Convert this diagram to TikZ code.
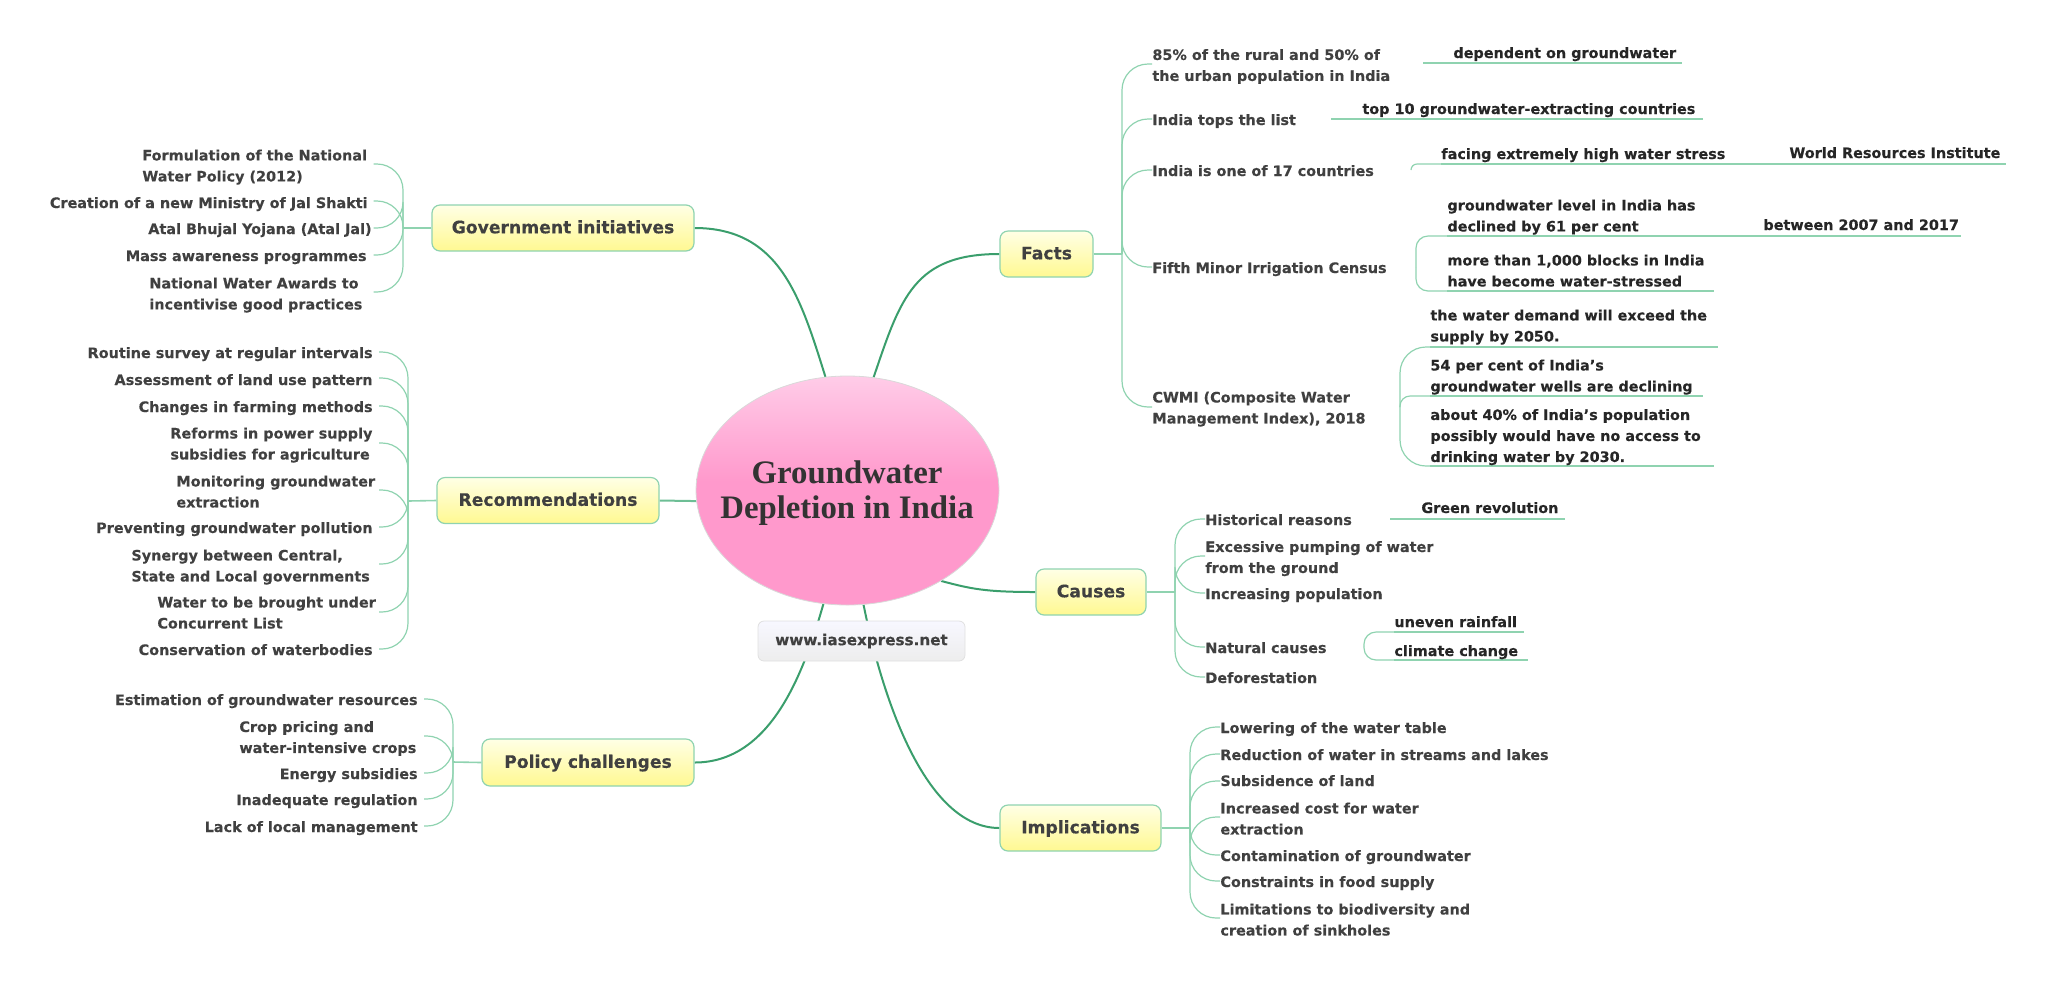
\documentclass[tikz,border=0pt]{standalone}
\usepackage{fontspec}
\setmainfont{DejaVu Sans}[BoldFeatures={FakeBold=0.25}]
\newfontfamily\titlefont{Liberation Serif}
\usetikzlibrary{backgrounds,shapes.geometric}
\definecolor{twigc}{HTML}{8FD3B0}
\definecolor{limbc}{HTML}{3A9E6C}
\definecolor{inkc}{HTML}{404040}
\definecolor{darkc}{HTML}{262626}
\definecolor{ellB}{HTML}{FF99CC}
\definecolor{ellT}{HTML}{FFCCE8}
\pgfdeclareverticalshading{ellshade}{100bp}{color(0bp)=(ellB);color(52bp)=(ellB);color(75bp)=(ellT);color(100bp)=(ellT)}
\newcommand{\st}{\rule[-2.5pt]{0pt}{10pt}}
\tikzset{
  x=0.5pt,y=-0.5pt,
  twig/.style={draw=twigc,line width=0.6pt,rounded corners=13pt},
  paren/.style={twig,rounded corners=6pt},
  limb/.style={draw=limbc,line width=1pt},
  limblight/.style={draw=twigc!60!limbc,line width=1pt},
  stem/.style={draw=twigc,line width=0.8pt},
  mainbox/.style={rectangle,rounded corners=4pt,draw=twigc,line width=0.6pt,top color=yellow!10!white,bottom color=yellow!40!white!95!orange,inner sep=0pt,text height=7pt,text depth=1.7pt,font=\fontsize{8.6}{10}\selectfont\bfseries,text=inkc},
  lab/.style={inner sep=0pt,anchor=west,align=left,font=\fontsize{7.2}{10.5}\selectfont\bfseries,text=inkc,execute at begin node=\st,execute at end node=\st},
  sub/.style={lab,text=darkc},
  rlab/.style={lab,anchor=east},
  ml/.style={yshift=-1.25pt},
}
\begin{document}
\begin{tikzpicture}
\useasboundingbox (0,0) rectangle (2048,981);
% centre
\node[ellipse,minimum width=151.5pt,minimum height=114.5pt,inner sep=0pt,draw=black!15,line width=0.4pt,shading=ellshade] (c) at (847.5,490.5) {};
\node[inner sep=0pt,align=center,font=\titlefont\fontsize{16.4}{17.5}\selectfont\bfseries,text=black!80] (ctitle) at (847,493) {Groundwater\\Depletion in India};
\node[rectangle,rounded corners=3pt,draw=black!12,line width=0.4pt,top color=blue!3!white,bottom color=black!7,minimum width=103.5pt,minimum height=20pt,inner sep=0pt,font=\fontsize{7.6}{9}\selectfont\bfseries,text=inkc] (web) at (861.5,641) {www.iasexpress.net};
% main boxes
\node[mainbox,minimum width=46.5pt,minimum height=23pt] (facts) at (1046.5,254) {Facts};
\node[mainbox,minimum width=55pt,minimum height=23pt] (causes) at (1091,592) {Causes};
\node[mainbox,minimum width=80.5pt,minimum height=23pt] (impl) at (1080.5,828) {Implications};
\node[mainbox,minimum width=131pt,minimum height=23pt] (gov) at (563,228) {Government initiatives};
\node[mainbox,minimum width=111pt,minimum height=23pt] (rec) at (548,500.5) {Recommendations};
\node[mainbox,minimum width=106pt,minimum height=23.5pt] (pol) at (588,762.5) {Policy challenges};
% Facts labels
\node[lab,ml] (f1) at (1152,65) {85\% of the rural and 50\% of\\the urban population in India};
\node[lab] (f2) at (1152,120) {India tops the list};
\node[lab] (f3) at (1152,171) {India is one of 17 countries};
\node[lab] (f4) at (1152,268) {Fifth Minor Irrigation Census};
\node[lab,ml] (f5) at (1152,407.5) {CWMI (Composite Water\\Management Index), 2018};
\node[sub] (s1) at (1453,53) {dependent on groundwater};
\node[sub] (s2) at (1362,109) {top 10 groundwater-extracting countries};
\node[sub] (s3) at (1441,154) {facing extremely high water stress};
\node[sub] (s4) at (1789,153) {World Resources Institute};
\node[sub,ml] (s5) at (1447,215.5) {groundwater level in India has\\declined by 61 per cent};
\node[sub] (s6) at (1763,225) {between 2007 and 2017};
\node[sub,ml] (s7) at (1447,270.5) {more than 1,000 blocks in India\\have become water-stressed};
\node[sub,ml] (s8) at (1430,325.5) {the water demand will exceed the\\supply by 2050.};
\node[sub,ml] (s9) at (1430,375.5) {54 per cent of India’s\\groundwater wells are declining};
\node[sub,ml] (s10) at (1430,435.5) {about 40\% of India’s population\\possibly would have no access to\\drinking water by 2030.};
% Causes labels
\node[lab] (a1) at (1205,520) {Historical reasons};
\node[lab,ml] (a2) at (1205,557) {Excessive pumping of water\\from the ground};
\node[lab] (a3) at (1205,594) {Increasing population};
\node[lab] (a4) at (1205,648) {Natural causes};
\node[lab] (a5) at (1205,678) {Deforestation};
\node[sub] (b1) at (1421,508) {Green revolution};
\node[sub] (b2) at (1394,622) {uneven rainfall};
\node[sub] (b3) at (1394,651) {climate change};
% Implications labels
\node[lab] (i1) at (1220,728) {Lowering of the water table};
\node[lab] (i2) at (1220,755) {Reduction of water in streams and lakes};
\node[lab] (i3) at (1220,781) {Subsidence of land};
\node[lab,ml] (i4) at (1220,818.5) {Increased cost for water\\extraction};
\node[lab] (i5) at (1220,856) {Contamination of groundwater};
\node[lab] (i6) at (1220,882) {Constraints in food supply};
\node[lab,ml] (i7) at (1220,919.5) {Limitations to biodiversity and\\creation of sinkholes};
% Government labels
\node[lab,ml] (g1) at (142,165.5) {Formulation of the National\\Water Policy (2012)};
\node[rlab] (g2) at (368,203) {Creation of a new Ministry of Jal Shakti};
\node[rlab] (g3) at (372,229) {Atal Bhujal Yojana (Atal Jal)};
\node[rlab] (g4) at (367,256) {Mass awareness programmes};
\node[lab,ml] (g5) at (149,293.5) {National Water Awards to\\incentivise good practices};
% Recommendation labels
\node[rlab] (r1) at (373,353) {Routine survey at regular intervals};
\node[rlab] (r2) at (373,380) {Assessment of land use pattern};
\node[rlab] (r3) at (373,407) {Changes in farming methods};
\node[lab,ml] (r4) at (170,443.5) {Reforms in power supply\\subsidies for agriculture};
\node[lab,ml] (r5) at (176,491.5) {Monitoring groundwater\\extraction};
\node[rlab] (r6) at (373,528) {Preventing groundwater pollution};
\node[lab,ml] (r7) at (131,565.5) {Synergy between Central,\\State and Local governments};
\node[lab,ml] (r8) at (157,612.5) {Water to be brought under\\Concurrent List};
\node[rlab] (r9) at (373,650) {Conservation of waterbodies};
% Policy labels
\node[rlab] (p1) at (418,700) {Estimation of groundwater resources};
\node[lab,ml] (p2) at (239,737) {Crop pricing and\\water-intensive crops};
\node[rlab] (p3) at (418,774) {Energy subsidies};
\node[rlab] (p4) at (418,800) {Inadequate regulation};
\node[rlab] (p5) at (418,827) {Lack of local management};
% connector points
\coordinate (jf) at (1122,254);
\foreach \n/\x/\y in {ef1/1152/64,ef2/1152/119,ef3/1152/170,ef4/1152/267,ef5/1152/407,
  ja/1175/592,ea1/1205/519,ea2/1205/556,ea3/1205/593,ea4/1205/647,ea5/1205/677,
  ji/1190/828,ei1/1220/727,ei2/1220/754,ei3/1220/781,ei4/1220/817,ei5/1220/855,ei6/1220/881,ei7/1220/918,
  jg/403/228,eg1/373.5/164,eg2/373.5/201,eg3/373.5/228,eg4/373.5/255,eg5/373.5/292,
  jr/408/501,er1/379/352,er2/379/378,er3/379/406,er4/379/443,er5/379/490,er6/379/527,er7/379/564,er8/379/612,er9/379/649,
  jp/453/762,ep1/424/699,ep2/424/736,ep3/424/773,ep4/424/799,ep5/424/826,
  js3/1411/170,u3a/1441/164,u3b/1759/164,u4b/2006/164,
  js4/1416/267,u5a/1447/236,u5b/1733/236,u6b/1961/236,u7a/1447/291,u7b/1714/291,
  js5/1400/407,u8a/1430/347,u8b/1718/347,u9a/1430/396,u9b/1703/396,u10a/1430/466,u10b/1714/466,
  u1a/1423/63,u1b/1682/63,u2a/1331/119,u2b/1703/119,
  ub1a/1390/519,ub1b/1565/519,
  jb/1364/646,ub2a/1394/632,ub2b/1524/632,ub3a/1394/660,ub3b/1528/660}
  {\coordinate (\n) at (\x,\y);}
\begin{scope}[on background layer]
\foreach \e in {1,...,5}{\draw[twig] (jf) |- (ef\e);}
\foreach \e in {1,...,5}{\draw[twig] (ja) |- (ea\e);}
\foreach \e in {1,...,7}{\draw[twig] (ji) |- (ei\e);}
\foreach \e in {1,...,5}{\draw[twig] (jg) |- (eg\e);}
\foreach \e in {1,...,9}{\draw[twig] (jr) |- (er\e);}
\foreach \e in {1,...,5}{\draw[twig] (jp) |- (ep\e);}
\draw[stem] (facts.east) -- (jf);
\draw[stem] (causes.east) -- (ja);
\draw[stem] (impl.east) -- (ji);
\draw[stem] (gov.west) -- (jg);
\draw[stem] (rec.west) -- (jr);
\draw[stem] (pol.west) -- (jp);
\draw[twig,rounded corners=3pt] (js3) |- (u3a);
\draw[twig] (u3a) -- (u3b);
\draw[twig] (u3b) -- (u4b);
\draw[paren] (js4) |- (u5a);
\draw[paren] (js4) |- (u7a);
\draw[twig] (u5a) -- (u5b);
\draw[twig] (u5b) -- (u6b);
\draw[twig] (u7a) -- (u7b);
\draw[twig] (js5) |- (u8a);
\draw[twig,rounded corners=5pt] (js5) |- (u9a);
\draw[twig] (js5) |- (u10a);
\draw[twig] (u8a) -- (u8b);
\draw[twig] (u9a) -- (u9b);
\draw[twig] (u10a) -- (u10b);
\draw[twig] (u1a) -- (u1b);
\draw[twig] (u2a) -- (u2b);
\draw[twig] (ub1a) -- (ub1b);
\draw[paren] (jb) |- (ub2a);
\draw[paren] (jb) |- (ub3a);
\draw[twig] (ub2a) -- (ub2b);
\draw[twig] (ub3a) -- (ub3b);
\draw[limb] (gov.east) .. controls +(85,0) and +(-25,-80) .. (c.101);
\draw[limb] (facts.west) .. controls +(-85,0) and +(27,-80) .. (c.77);
\draw[limblight] (rec.east) -- (c.184);
\draw[limb] (causes.west) .. controls +(-50,0) and +(30,8) .. (c.316.6);
\draw[limb] (pol.east) .. controls +(76,0) and +(-20,70) .. (c.258.4);
\draw[limb] (impl.west) .. controls +(-75,0) and +(18,90) .. (c.278.7);
\end{scope}
\end{tikzpicture}
\end{document}
